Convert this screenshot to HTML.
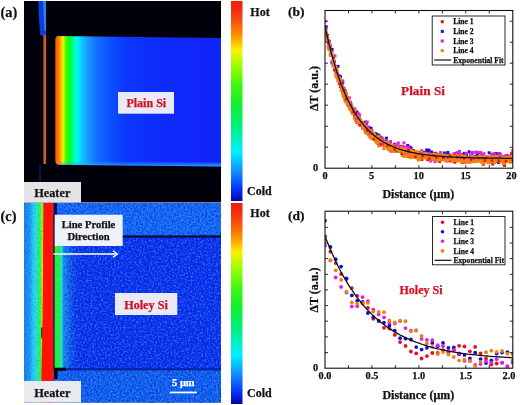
<!DOCTYPE html><html><head><meta charset="utf-8"><title>Figure</title>
<style>html,body{margin:0;padding:0;background:#fff}svg{display:block}text{font-family:"Liberation Serif","DejaVu Serif",serif;font-weight:bold;fill:#111;stroke:#111;stroke-width:0.25px}</style></head><body>
<svg width="520" height="405" viewBox="0 0 520 405">
<defs>
<linearGradient id="jet" x1="0" y1="0" x2="0" y2="1">
<stop offset="0" stop-color="#f01c10"/><stop offset="0.04" stop-color="#f42810"/><stop offset="0.10" stop-color="#f85010"/><stop offset="0.17" stop-color="#ff9000"/>
<stop offset="0.245" stop-color="#fcf000"/><stop offset="0.32" stop-color="#a0ff00"/><stop offset="0.42" stop-color="#40f810"/><stop offset="0.52" stop-color="#10f030"/>
<stop offset="0.625" stop-color="#00f080"/><stop offset="0.69" stop-color="#00f0c0"/><stop offset="0.755" stop-color="#00f0ff"/><stop offset="0.85" stop-color="#1090ff"/>
<stop offset="0.935" stop-color="#0838ff"/><stop offset="0.985" stop-color="#0410c0"/><stop offset="1" stop-color="#000890"/>
</linearGradient>
<linearGradient id="mem" gradientUnits="userSpaceOnUse" x1="55" y1="0" x2="221" y2="0">
<stop offset="0" stop-color="#c83800"/><stop offset="0.008" stop-color="#f86000"/><stop offset="0.028" stop-color="#ff9000"/>
<stop offset="0.042" stop-color="#ffd800"/><stop offset="0.052" stop-color="#d0ff00"/><stop offset="0.064" stop-color="#50ff00"/><stop offset="0.085" stop-color="#00ff20"/>
<stop offset="0.108" stop-color="#00ff80"/><stop offset="0.125" stop-color="#00ffd0"/><stop offset="0.14" stop-color="#00f0ff"/><stop offset="0.165" stop-color="#10c0ff"/>
<stop offset="0.2" stop-color="#1898ff"/><stop offset="0.25" stop-color="#1070ff"/><stop offset="0.32" stop-color="#0c54ff"/>
<stop offset="0.42" stop-color="#0c38fc"/><stop offset="0.6" stop-color="#0e2cfa"/><stop offset="1" stop-color="#1024f8"/>
</linearGradient>
<linearGradient id="glow" x1="0" y1="0" x2="0" y2="1"><stop offset="0" stop-color="#20a0ff" stop-opacity="0"/><stop offset="1" stop-color="#30b0ff" stop-opacity="0.9"/></linearGradient>
<linearGradient id="cleft" gradientUnits="userSpaceOnUse" x1="24" y1="0" x2="43.5" y2="0">
<stop offset="0" stop-color="#1880f0"/><stop offset="0.3" stop-color="#1c98f0"/><stop offset="0.45" stop-color="#28c8f0"/><stop offset="0.66" stop-color="#28e8e0"/><stop offset="0.74" stop-color="#20f070"/><stop offset="0.88" stop-color="#50ff30"/><stop offset="0.93" stop-color="#e0f000"/><stop offset="1" stop-color="#ff8000"/>
</linearGradient>
<linearGradient id="cright" gradientUnits="userSpaceOnUse" x1="54.5" y1="0" x2="80" y2="0">
<stop offset="0" stop-color="#30f030"/><stop offset="0.22" stop-color="#20f060"/><stop offset="0.28" stop-color="#20e8d8"/><stop offset="0.36" stop-color="#1890f0"/><stop offset="0.55" stop-color="#1468f0"/><stop offset="1" stop-color="#0c3cf0" stop-opacity="0"/>
</linearGradient>
<linearGradient id="cright2" gradientUnits="userSpaceOnUse" x1="54.5" y1="0" x2="80" y2="0">
<stop offset="0" stop-color="#30f030"/><stop offset="0.22" stop-color="#20f060"/><stop offset="0.28" stop-color="#20e8d8"/><stop offset="0.34" stop-color="#1890f0" stop-opacity="0.5"/><stop offset="0.42" stop-color="#1468f0" stop-opacity="0"/><stop offset="1" stop-color="#0c3cf0" stop-opacity="0"/>
</linearGradient>
<filter id="noise" x="0" y="0" width="100%" height="100%" color-interpolation-filters="sRGB"><feTurbulence type="fractalNoise" baseFrequency="0.55" numOctaves="2" seed="3" result="n"/>
<feColorMatrix in="n" type="matrix" values="0 0 0 0 0.30  0 0 0 0 0.62  0 0 0 0 1  3.2 0 0 0 -1.6"/></filter>
<filter id="noise2" x="0" y="0" width="100%" height="100%" color-interpolation-filters="sRGB"><feTurbulence type="fractalNoise" baseFrequency="0.55" numOctaves="2" seed="3" result="n"/>
<feColorMatrix in="n" type="matrix" values="0 0 0 0 0  0 0 0 0 0.04  0 0 0 0 0.62  -3.2 0 0 0 1.6"/></filter>
<filter id="soft2" x="-50%" y="-2%" width="200%" height="104%"><feGaussianBlur stdDeviation="0.35"/></filter>
<filter id="soft" x="-20%" y="-5%" width="140%" height="110%"><feGaussianBlur stdDeviation="0.6"/></filter>
<clipPath id="clipb"><rect x="325" y="10.5" width="188" height="157.7"/></clipPath>
<clipPath id="clipd"><rect x="325" y="211" width="188" height="157.5"/></clipPath>
</defs>
<rect width="520" height="405" fill="#fff"/>
<g id="panel-a">
<rect x="24" y="1" width="197" height="201.5" fill="#00000a"/>
<path d="M58.5 36 L221 38 L221 166.5 L59 164.8 Q55.2 164.6 55.2 161 L55.2 39.5 Q55.4 36 58.5 36 Z" fill="url(#mem)"/>
<path d="M60 160.8 L221 162.5 L221 166.5 L58 164.8 Z" fill="url(#glow)"/>
<path d="M38.2 1 L46 1 L46 35.5 L40.4 35.5 L39 20 Z" fill="#0a3ce0" filter="url(#soft)"/>
<path d="M43 1 L46 1 L46 31 L44.4 31 Z" fill="#2088ec" filter="url(#soft)"/>
<rect x="43.4" y="35" width="2.7" height="129" fill="#cc5830" filter="url(#soft2)"/>
<rect x="39" y="165" width="2" height="16" fill="#101870" opacity="0.7"/>
<rect x="118" y="92" width="56" height="21.7" fill="#e9e9f8"/>
<text x="146.3" y="107" font-size="12" text-anchor="middle" style="fill:#d01020;stroke:#d01020">Plain Si</text>
<rect x="24" y="182" width="57" height="20.5" fill="#e4e4e6"/>
<text x="52.3" y="197.3" font-size="12.3" text-anchor="middle">Heater</text>
<text x="0.6" y="16.6" font-size="14.3">(a)</text>
<rect x="231" y="1" width="11.5" height="200" fill="url(#jet)"/>
<text x="250.3" y="15.7" font-size="12">Hot</text>
<text x="247" y="195.4" font-size="12">Cold</text>
</g>
<g id="panel-c">
<rect x="24" y="203" width="197" height="199.5" fill="#0a34f0"/>
<rect x="54" y="203" width="167" height="33" fill="#1468f8"/>
<rect x="54" y="370" width="167" height="32.5" fill="#1060f0"/>
<rect x="24" y="203" width="19.5" height="199.5" fill="url(#cleft)"/>
<rect x="54.5" y="215" width="26" height="154" fill="url(#cright)"/>
<rect x="24" y="203" width="197" height="199.5" filter="url(#noise)" opacity="0.6"/>
<rect x="24" y="203" width="197" height="199.5" filter="url(#noise2)" opacity="0.5"/>
<rect x="24" y="203" width="19.5" height="199.5" fill="url(#cleft)" opacity="0.6"/>
<rect x="54.5" y="215" width="26" height="154" fill="url(#cright2)" opacity="0.75"/>
<rect x="122" y="235.4" width="99" height="2.2" fill="#000838"/>
<rect x="54" y="368.3" width="167" height="2" fill="#06209c"/>
<path d="M54 367.8 H66 V370.8 H57.5 V379 H54 Z" fill="#000010"/>
<rect x="53.5" y="203" width="3.5" height="12" fill="#001070"/>
<path d="M44.2 203 L53.5 203 L53.2 300 L53.8 402.5 L40.8 402.5 L42.6 320 L43.2 260 Z" fill="#ff1208"/>
<path d="M53.4 215 L54.6 215 L54.5 370 L53.6 370 Z" fill="#101020"/>
<path d="M41.2 328 L42.4 327 L42.2 339 L41.3 338 Z" fill="#081020"/>
<rect x="54.8" y="214.7" width="67.9" height="31.3" fill="#eef2f8"/>
<text x="88.5" y="227.6" font-size="10.6" text-anchor="middle">Line Profile</text>
<text x="88.5" y="240.4" font-size="10.6" text-anchor="middle">Direction</text>
<path d="M53.5 254 H116.5" stroke="#fff" stroke-width="1.5" fill="none"/>
<path d="M113 250.8 L117.3 254 L113 257.2" stroke="#fff" stroke-width="1.4" fill="none"/>
<rect x="115" y="293" width="62.3" height="22" fill="#e9e9f8"/>
<text x="146" y="308.5" font-size="12.2" text-anchor="middle" style="fill:#d01020;stroke:#d01020">Holey Si</text>
<rect x="24" y="381" width="57" height="21.5" fill="#e8eaee"/>
<text x="52.3" y="396.8" font-size="12.3" text-anchor="middle">Heater</text>
<text x="183.3" y="385.8" font-size="10.5" text-anchor="middle" style="fill:#fff;stroke:#fff">5 μm</text>
<rect x="169.7" y="391.6" width="27.2" height="1.7" fill="#fff"/>
<text x="0.6" y="221" font-size="14.3">(c)</text>
<rect x="231" y="203" width="11.5" height="201" fill="url(#jet)"/>
<text x="250.3" y="217.4" font-size="12">Hot</text>
<text x="247" y="397" font-size="12">Cold</text>
</g>
<g id="plot-b">
<g clip-path="url(#clipb)">
<g fill="#e8101c"><rect x="323.5" y="26.6" width="3" height="3"/><rect x="324.7" y="34.7" width="3" height="3"/><rect x="325.9" y="37.3" width="3" height="3"/><rect x="327.0" y="41.9" width="3" height="3"/><rect x="328.2" y="44.6" width="3" height="3"/><rect x="329.4" y="51.6" width="3" height="3"/><rect x="330.6" y="60.3" width="3" height="3"/><rect x="331.8" y="62.2" width="3" height="3"/><rect x="332.9" y="68.2" width="3" height="3"/><rect x="334.1" y="69.5" width="3" height="3"/><rect x="335.3" y="73.6" width="3" height="3"/><rect x="336.5" y="76.5" width="3" height="3"/><rect x="337.7" y="74.2" width="3" height="3"/><rect x="338.9" y="85.2" width="3" height="3"/><rect x="340.0" y="87.2" width="3" height="3"/><rect x="341.2" y="90.2" width="3" height="3"/><rect x="342.4" y="86.6" width="3" height="3"/><rect x="343.6" y="89.2" width="3" height="3"/><rect x="344.8" y="94.4" width="3" height="3"/><rect x="345.9" y="98.1" width="3" height="3"/><rect x="347.1" y="102.8" width="3" height="3"/><rect x="348.3" y="104.1" width="3" height="3"/><rect x="349.5" y="107.9" width="3" height="3"/><rect x="350.7" y="106.8" width="3" height="3"/><rect x="351.8" y="111.5" width="3" height="3"/><rect x="353.0" y="113.7" width="3" height="3"/><rect x="354.2" y="112.7" width="3" height="3"/><rect x="355.4" y="121.0" width="3" height="3"/><rect x="356.6" y="119.6" width="3" height="3"/><rect x="357.8" y="122.9" width="3" height="3"/><rect x="358.9" y="119.7" width="3" height="3"/><rect x="360.1" y="120.9" width="3" height="3"/><rect x="361.3" y="123.4" width="3" height="3"/><rect x="362.5" y="125.5" width="3" height="3"/><rect x="363.7" y="128.7" width="3" height="3"/><rect x="364.8" y="129.0" width="3" height="3"/><rect x="366.0" y="128.5" width="3" height="3"/><rect x="367.2" y="128.3" width="3" height="3"/><rect x="368.4" y="130.6" width="3" height="3"/><rect x="369.6" y="136.2" width="3" height="3"/><rect x="370.7" y="132.0" width="3" height="3"/><rect x="371.9" y="135.7" width="3" height="3"/><rect x="373.1" y="137.1" width="3" height="3"/><rect x="374.3" y="133.2" width="3" height="3"/><rect x="375.5" y="138.0" width="3" height="3"/><rect x="376.7" y="142.0" width="3" height="3"/><rect x="377.8" y="134.5" width="3" height="3"/><rect x="379.0" y="139.5" width="3" height="3"/><rect x="380.2" y="140.8" width="3" height="3"/><rect x="381.4" y="139.8" width="3" height="3"/><rect x="382.6" y="143.7" width="3" height="3"/><rect x="383.7" y="143.0" width="3" height="3"/><rect x="384.9" y="140.2" width="3" height="3"/><rect x="386.1" y="146.4" width="3" height="3"/><rect x="387.3" y="146.6" width="3" height="3"/><rect x="388.5" y="147.8" width="3" height="3"/><rect x="389.6" y="149.6" width="3" height="3"/><rect x="390.8" y="147.5" width="3" height="3"/><rect x="392.0" y="147.4" width="3" height="3"/><rect x="393.2" y="144.4" width="3" height="3"/><rect x="394.4" y="149.5" width="3" height="3"/><rect x="395.5" y="147.0" width="3" height="3"/><rect x="396.7" y="147.8" width="3" height="3"/><rect x="397.9" y="146.2" width="3" height="3"/><rect x="399.1" y="147.3" width="3" height="3"/><rect x="400.3" y="148.7" width="3" height="3"/><rect x="401.5" y="153.4" width="3" height="3"/><rect x="402.6" y="145.9" width="3" height="3"/><rect x="403.8" y="147.6" width="3" height="3"/><rect x="405.0" y="151.9" width="3" height="3"/><rect x="406.2" y="155.1" width="3" height="3"/><rect x="407.4" y="153.3" width="3" height="3"/><rect x="408.5" y="147.7" width="3" height="3"/><rect x="409.7" y="146.5" width="3" height="3"/><rect x="410.9" y="153.6" width="3" height="3"/><rect x="412.1" y="151.2" width="3" height="3"/><rect x="413.3" y="150.5" width="3" height="3"/><rect x="414.4" y="155.7" width="3" height="3"/><rect x="415.6" y="156.2" width="3" height="3"/><rect x="416.8" y="154.2" width="3" height="3"/><rect x="418.0" y="154.6" width="3" height="3"/><rect x="419.2" y="155.2" width="3" height="3"/><rect x="420.4" y="158.1" width="3" height="3"/><rect x="421.5" y="156.0" width="3" height="3"/><rect x="422.7" y="155.9" width="3" height="3"/><rect x="423.9" y="156.2" width="3" height="3"/><rect x="425.1" y="151.4" width="3" height="3"/><rect x="426.3" y="158.2" width="3" height="3"/><rect x="427.4" y="157.6" width="3" height="3"/><rect x="428.6" y="156.7" width="3" height="3"/><rect x="429.8" y="151.0" width="3" height="3"/><rect x="431.0" y="154.2" width="3" height="3"/><rect x="432.2" y="157.8" width="3" height="3"/><rect x="433.3" y="151.7" width="3" height="3"/><rect x="434.5" y="155.6" width="3" height="3"/><rect x="435.7" y="158.5" width="3" height="3"/><rect x="436.9" y="153.2" width="3" height="3"/><rect x="438.1" y="160.1" width="3" height="3"/><rect x="439.3" y="157.7" width="3" height="3"/><rect x="440.4" y="156.2" width="3" height="3"/><rect x="441.6" y="157.4" width="3" height="3"/><rect x="442.8" y="158.2" width="3" height="3"/><rect x="444.0" y="157.1" width="3" height="3"/><rect x="445.2" y="159.5" width="3" height="3"/><rect x="446.3" y="155.4" width="3" height="3"/><rect x="447.5" y="156.0" width="3" height="3"/><rect x="448.7" y="159.5" width="3" height="3"/><rect x="449.9" y="157.2" width="3" height="3"/><rect x="451.1" y="155.1" width="3" height="3"/><rect x="452.2" y="159.4" width="3" height="3"/><rect x="453.4" y="160.7" width="3" height="3"/><rect x="454.6" y="156.3" width="3" height="3"/><rect x="455.8" y="154.2" width="3" height="3"/><rect x="457.0" y="157.1" width="3" height="3"/><rect x="458.1" y="157.2" width="3" height="3"/><rect x="459.3" y="156.9" width="3" height="3"/><rect x="460.5" y="160.8" width="3" height="3"/><rect x="461.7" y="155.3" width="3" height="3"/><rect x="462.9" y="160.6" width="3" height="3"/><rect x="464.1" y="154.8" width="3" height="3"/><rect x="465.2" y="155.9" width="3" height="3"/><rect x="466.4" y="159.2" width="3" height="3"/><rect x="467.6" y="160.4" width="3" height="3"/><rect x="468.8" y="159.8" width="3" height="3"/><rect x="470.0" y="158.7" width="3" height="3"/><rect x="471.1" y="158.2" width="3" height="3"/><rect x="472.3" y="158.3" width="3" height="3"/><rect x="473.5" y="159.3" width="3" height="3"/><rect x="474.7" y="157.6" width="3" height="3"/><rect x="475.9" y="158.7" width="3" height="3"/><rect x="477.0" y="159.4" width="3" height="3"/><rect x="478.2" y="158.1" width="3" height="3"/><rect x="479.4" y="159.8" width="3" height="3"/><rect x="480.6" y="159.4" width="3" height="3"/><rect x="481.8" y="162.8" width="3" height="3"/><rect x="483.0" y="158.9" width="3" height="3"/><rect x="484.1" y="157.2" width="3" height="3"/><rect x="485.3" y="157.3" width="3" height="3"/><rect x="486.5" y="158.2" width="3" height="3"/><rect x="487.7" y="160.3" width="3" height="3"/><rect x="488.9" y="157.5" width="3" height="3"/><rect x="490.0" y="159.1" width="3" height="3"/><rect x="491.2" y="162.5" width="3" height="3"/><rect x="492.4" y="152.4" width="3" height="3"/><rect x="493.6" y="155.7" width="3" height="3"/><rect x="494.8" y="158.9" width="3" height="3"/><rect x="495.9" y="159.2" width="3" height="3"/><rect x="497.1" y="158.9" width="3" height="3"/><rect x="498.3" y="157.3" width="3" height="3"/><rect x="499.5" y="159.9" width="3" height="3"/><rect x="500.7" y="159.0" width="3" height="3"/><rect x="501.9" y="157.2" width="3" height="3"/><rect x="503.0" y="164.0" width="3" height="3"/><rect x="504.2" y="159.2" width="3" height="3"/><rect x="505.4" y="157.1" width="3" height="3"/><rect x="506.6" y="158.2" width="3" height="3"/><rect x="507.8" y="157.9" width="3" height="3"/><rect x="508.9" y="158.3" width="3" height="3"/><rect x="510.1" y="152.1" width="3" height="3"/><rect x="511.3" y="157.3" width="3" height="3"/></g>
<g fill="#1010d8"><rect x="323.5" y="26.9" width="3" height="3"/><rect x="324.7" y="25.3" width="3" height="3"/><rect x="325.9" y="34.0" width="3" height="3"/><rect x="327.0" y="42.3" width="3" height="3"/><rect x="328.2" y="46.7" width="3" height="3"/><rect x="329.4" y="53.2" width="3" height="3"/><rect x="330.6" y="47.9" width="3" height="3"/><rect x="331.8" y="56.2" width="3" height="3"/><rect x="332.9" y="60.4" width="3" height="3"/><rect x="334.1" y="67.1" width="3" height="3"/><rect x="335.3" y="72.1" width="3" height="3"/><rect x="336.5" y="64.9" width="3" height="3"/><rect x="337.7" y="79.0" width="3" height="3"/><rect x="338.9" y="75.2" width="3" height="3"/><rect x="340.0" y="84.3" width="3" height="3"/><rect x="341.2" y="81.4" width="3" height="3"/><rect x="342.4" y="88.8" width="3" height="3"/><rect x="343.6" y="94.3" width="3" height="3"/><rect x="344.8" y="93.4" width="3" height="3"/><rect x="345.9" y="96.9" width="3" height="3"/><rect x="347.1" y="100.9" width="3" height="3"/><rect x="348.3" y="101.5" width="3" height="3"/><rect x="349.5" y="103.2" width="3" height="3"/><rect x="350.7" y="109.5" width="3" height="3"/><rect x="351.8" y="110.3" width="3" height="3"/><rect x="353.0" y="108.9" width="3" height="3"/><rect x="354.2" y="118.4" width="3" height="3"/><rect x="355.4" y="110.5" width="3" height="3"/><rect x="356.6" y="117.4" width="3" height="3"/><rect x="357.8" y="116.2" width="3" height="3"/><rect x="358.9" y="118.8" width="3" height="3"/><rect x="360.1" y="121.7" width="3" height="3"/><rect x="361.3" y="122.0" width="3" height="3"/><rect x="362.5" y="124.4" width="3" height="3"/><rect x="363.7" y="120.6" width="3" height="3"/><rect x="364.8" y="122.0" width="3" height="3"/><rect x="366.0" y="128.3" width="3" height="3"/><rect x="367.2" y="125.8" width="3" height="3"/><rect x="368.4" y="126.8" width="3" height="3"/><rect x="369.6" y="126.8" width="3" height="3"/><rect x="370.7" y="134.3" width="3" height="3"/><rect x="371.9" y="134.1" width="3" height="3"/><rect x="373.1" y="136.7" width="3" height="3"/><rect x="374.3" y="132.1" width="3" height="3"/><rect x="375.5" y="135.2" width="3" height="3"/><rect x="376.7" y="133.4" width="3" height="3"/><rect x="377.8" y="138.6" width="3" height="3"/><rect x="379.0" y="141.2" width="3" height="3"/><rect x="380.2" y="136.4" width="3" height="3"/><rect x="381.4" y="142.6" width="3" height="3"/><rect x="382.6" y="142.0" width="3" height="3"/><rect x="383.7" y="140.1" width="3" height="3"/><rect x="384.9" y="136.7" width="3" height="3"/><rect x="386.1" y="144.9" width="3" height="3"/><rect x="387.3" y="142.1" width="3" height="3"/><rect x="388.5" y="141.6" width="3" height="3"/><rect x="389.6" y="144.3" width="3" height="3"/><rect x="390.8" y="144.9" width="3" height="3"/><rect x="392.0" y="147.8" width="3" height="3"/><rect x="393.2" y="142.7" width="3" height="3"/><rect x="394.4" y="147.9" width="3" height="3"/><rect x="395.5" y="149.1" width="3" height="3"/><rect x="396.7" y="149.4" width="3" height="3"/><rect x="397.9" y="146.3" width="3" height="3"/><rect x="399.1" y="145.4" width="3" height="3"/><rect x="400.3" y="149.6" width="3" height="3"/><rect x="401.5" y="148.0" width="3" height="3"/><rect x="402.6" y="148.4" width="3" height="3"/><rect x="403.8" y="151.5" width="3" height="3"/><rect x="405.0" y="148.2" width="3" height="3"/><rect x="406.2" y="144.1" width="3" height="3"/><rect x="407.4" y="148.5" width="3" height="3"/><rect x="408.5" y="145.6" width="3" height="3"/><rect x="409.7" y="151.7" width="3" height="3"/><rect x="410.9" y="150.8" width="3" height="3"/><rect x="412.1" y="149.1" width="3" height="3"/><rect x="413.3" y="150.6" width="3" height="3"/><rect x="414.4" y="152.6" width="3" height="3"/><rect x="415.6" y="151.2" width="3" height="3"/><rect x="416.8" y="154.1" width="3" height="3"/><rect x="418.0" y="151.3" width="3" height="3"/><rect x="419.2" y="153.9" width="3" height="3"/><rect x="420.4" y="155.0" width="3" height="3"/><rect x="421.5" y="155.5" width="3" height="3"/><rect x="422.7" y="150.8" width="3" height="3"/><rect x="423.9" y="154.2" width="3" height="3"/><rect x="425.1" y="148.5" width="3" height="3"/><rect x="426.3" y="150.3" width="3" height="3"/><rect x="427.4" y="148.6" width="3" height="3"/><rect x="428.6" y="155.2" width="3" height="3"/><rect x="429.8" y="150.4" width="3" height="3"/><rect x="431.0" y="153.2" width="3" height="3"/><rect x="432.2" y="152.9" width="3" height="3"/><rect x="433.3" y="153.4" width="3" height="3"/><rect x="434.5" y="152.3" width="3" height="3"/><rect x="435.7" y="154.1" width="3" height="3"/><rect x="436.9" y="157.5" width="3" height="3"/><rect x="438.1" y="153.9" width="3" height="3"/><rect x="439.3" y="155.0" width="3" height="3"/><rect x="440.4" y="156.1" width="3" height="3"/><rect x="441.6" y="153.7" width="3" height="3"/><rect x="442.8" y="151.5" width="3" height="3"/><rect x="444.0" y="153.1" width="3" height="3"/><rect x="445.2" y="156.6" width="3" height="3"/><rect x="446.3" y="150.9" width="3" height="3"/><rect x="447.5" y="153.2" width="3" height="3"/><rect x="448.7" y="156.7" width="3" height="3"/><rect x="449.9" y="156.3" width="3" height="3"/><rect x="451.1" y="154.7" width="3" height="3"/><rect x="452.2" y="156.4" width="3" height="3"/><rect x="453.4" y="155.1" width="3" height="3"/><rect x="454.6" y="152.3" width="3" height="3"/><rect x="455.8" y="151.6" width="3" height="3"/><rect x="457.0" y="153.6" width="3" height="3"/><rect x="458.1" y="156.9" width="3" height="3"/><rect x="459.3" y="153.8" width="3" height="3"/><rect x="460.5" y="153.2" width="3" height="3"/><rect x="461.7" y="153.5" width="3" height="3"/><rect x="462.9" y="151.9" width="3" height="3"/><rect x="464.1" y="155.0" width="3" height="3"/><rect x="465.2" y="152.7" width="3" height="3"/><rect x="466.4" y="156.0" width="3" height="3"/><rect x="467.6" y="150.3" width="3" height="3"/><rect x="468.8" y="156.0" width="3" height="3"/><rect x="470.0" y="154.0" width="3" height="3"/><rect x="471.1" y="151.3" width="3" height="3"/><rect x="472.3" y="157.0" width="3" height="3"/><rect x="473.5" y="154.9" width="3" height="3"/><rect x="474.7" y="150.8" width="3" height="3"/><rect x="475.9" y="153.7" width="3" height="3"/><rect x="477.0" y="156.1" width="3" height="3"/><rect x="478.2" y="154.6" width="3" height="3"/><rect x="479.4" y="157.2" width="3" height="3"/><rect x="480.6" y="157.2" width="3" height="3"/><rect x="481.8" y="157.0" width="3" height="3"/><rect x="483.0" y="156.3" width="3" height="3"/><rect x="484.1" y="158.5" width="3" height="3"/><rect x="485.3" y="157.1" width="3" height="3"/><rect x="486.5" y="156.6" width="3" height="3"/><rect x="487.7" y="151.3" width="3" height="3"/><rect x="488.9" y="157.6" width="3" height="3"/><rect x="490.0" y="158.5" width="3" height="3"/><rect x="491.2" y="155.1" width="3" height="3"/><rect x="492.4" y="154.8" width="3" height="3"/><rect x="493.6" y="159.9" width="3" height="3"/><rect x="494.8" y="152.1" width="3" height="3"/><rect x="495.9" y="156.8" width="3" height="3"/><rect x="497.1" y="160.9" width="3" height="3"/><rect x="498.3" y="153.9" width="3" height="3"/><rect x="499.5" y="157.3" width="3" height="3"/><rect x="500.7" y="159.8" width="3" height="3"/><rect x="501.9" y="155.6" width="3" height="3"/><rect x="503.0" y="157.1" width="3" height="3"/><rect x="504.2" y="157.8" width="3" height="3"/><rect x="505.4" y="154.0" width="3" height="3"/><rect x="506.6" y="155.7" width="3" height="3"/><rect x="507.8" y="156.5" width="3" height="3"/><rect x="508.9" y="157.7" width="3" height="3"/><rect x="510.1" y="155.9" width="3" height="3"/><rect x="511.3" y="155.5" width="3" height="3"/></g>
<g fill="#e020e0"><rect x="323.5" y="19.8" width="3" height="3"/><rect x="324.6" y="27.5" width="3" height="3"/><rect x="325.7" y="37.2" width="3" height="3"/><rect x="326.8" y="38.9" width="3" height="3"/><rect x="327.9" y="39.9" width="3" height="3"/><rect x="329.1" y="44.4" width="3" height="3"/><rect x="330.2" y="61.3" width="3" height="3"/><rect x="331.3" y="59.8" width="3" height="3"/><rect x="332.4" y="61.8" width="3" height="3"/><rect x="333.5" y="54.3" width="3" height="3"/><rect x="334.6" y="69.1" width="3" height="3"/><rect x="335.7" y="72.0" width="3" height="3"/><rect x="336.8" y="79.4" width="3" height="3"/><rect x="337.9" y="78.3" width="3" height="3"/><rect x="339.1" y="79.7" width="3" height="3"/><rect x="340.2" y="84.6" width="3" height="3"/><rect x="341.3" y="79.4" width="3" height="3"/><rect x="342.4" y="91.8" width="3" height="3"/><rect x="343.5" y="92.1" width="3" height="3"/><rect x="344.6" y="91.4" width="3" height="3"/><rect x="345.7" y="100.2" width="3" height="3"/><rect x="346.8" y="104.0" width="3" height="3"/><rect x="347.9" y="96.3" width="3" height="3"/><rect x="349.1" y="100.7" width="3" height="3"/><rect x="350.2" y="105.7" width="3" height="3"/><rect x="351.3" y="107.4" width="3" height="3"/><rect x="352.4" y="107.5" width="3" height="3"/><rect x="353.5" y="107.6" width="3" height="3"/><rect x="354.6" y="118.6" width="3" height="3"/><rect x="355.7" y="117.1" width="3" height="3"/><rect x="356.8" y="112.1" width="3" height="3"/><rect x="357.9" y="113.3" width="3" height="3"/><rect x="359.1" y="123.7" width="3" height="3"/><rect x="360.2" y="123.0" width="3" height="3"/><rect x="361.3" y="126.8" width="3" height="3"/><rect x="362.4" y="125.2" width="3" height="3"/><rect x="363.5" y="121.7" width="3" height="3"/><rect x="364.6" y="126.2" width="3" height="3"/><rect x="365.7" y="120.5" width="3" height="3"/><rect x="366.8" y="125.7" width="3" height="3"/><rect x="367.9" y="128.7" width="3" height="3"/><rect x="369.1" y="131.4" width="3" height="3"/><rect x="370.2" y="128.9" width="3" height="3"/><rect x="371.3" y="131.6" width="3" height="3"/><rect x="372.4" y="134.1" width="3" height="3"/><rect x="373.5" y="134.8" width="3" height="3"/><rect x="374.6" y="136.4" width="3" height="3"/><rect x="375.7" y="136.0" width="3" height="3"/><rect x="376.8" y="135.4" width="3" height="3"/><rect x="378.0" y="139.2" width="3" height="3"/><rect x="379.1" y="137.9" width="3" height="3"/><rect x="380.2" y="136.3" width="3" height="3"/><rect x="381.3" y="137.5" width="3" height="3"/><rect x="382.4" y="139.8" width="3" height="3"/><rect x="383.5" y="140.2" width="3" height="3"/><rect x="384.6" y="141.5" width="3" height="3"/><rect x="385.7" y="141.7" width="3" height="3"/><rect x="386.8" y="142.7" width="3" height="3"/><rect x="388.0" y="142.4" width="3" height="3"/><rect x="389.1" y="140.0" width="3" height="3"/><rect x="390.2" y="144.9" width="3" height="3"/><rect x="391.3" y="147.0" width="3" height="3"/><rect x="392.4" y="145.9" width="3" height="3"/><rect x="393.5" y="144.7" width="3" height="3"/><rect x="394.6" y="146.8" width="3" height="3"/><rect x="395.7" y="143.5" width="3" height="3"/><rect x="396.8" y="141.5" width="3" height="3"/><rect x="398.0" y="146.9" width="3" height="3"/><rect x="399.1" y="144.7" width="3" height="3"/><rect x="400.2" y="149.4" width="3" height="3"/><rect x="401.3" y="145.0" width="3" height="3"/><rect x="402.4" y="141.4" width="3" height="3"/><rect x="403.5" y="145.8" width="3" height="3"/><rect x="404.6" y="152.8" width="3" height="3"/><rect x="405.7" y="148.1" width="3" height="3"/><rect x="406.8" y="145.8" width="3" height="3"/><rect x="408.0" y="147.6" width="3" height="3"/><rect x="409.1" y="151.2" width="3" height="3"/><rect x="410.2" y="151.4" width="3" height="3"/><rect x="411.3" y="150.8" width="3" height="3"/><rect x="412.4" y="154.4" width="3" height="3"/><rect x="413.5" y="152.6" width="3" height="3"/><rect x="414.6" y="150.9" width="3" height="3"/><rect x="415.7" y="152.7" width="3" height="3"/><rect x="416.8" y="155.6" width="3" height="3"/><rect x="418.0" y="154.0" width="3" height="3"/><rect x="419.1" y="154.4" width="3" height="3"/><rect x="420.2" y="149.2" width="3" height="3"/><rect x="421.3" y="151.7" width="3" height="3"/><rect x="422.4" y="154.1" width="3" height="3"/><rect x="423.5" y="151.6" width="3" height="3"/><rect x="424.6" y="155.3" width="3" height="3"/><rect x="425.7" y="154.2" width="3" height="3"/><rect x="426.8" y="155.1" width="3" height="3"/><rect x="428.0" y="152.4" width="3" height="3"/><rect x="429.1" y="159.5" width="3" height="3"/><rect x="430.2" y="156.3" width="3" height="3"/><rect x="431.3" y="152.8" width="3" height="3"/><rect x="432.4" y="153.7" width="3" height="3"/><rect x="433.5" y="160.1" width="3" height="3"/><rect x="434.6" y="152.8" width="3" height="3"/><rect x="435.7" y="155.9" width="3" height="3"/><rect x="436.8" y="156.3" width="3" height="3"/><rect x="438.0" y="153.9" width="3" height="3"/><rect x="439.1" y="151.1" width="3" height="3"/><rect x="440.2" y="154.6" width="3" height="3"/><rect x="441.3" y="155.1" width="3" height="3"/><rect x="442.4" y="157.1" width="3" height="3"/><rect x="443.5" y="156.3" width="3" height="3"/><rect x="444.6" y="154.5" width="3" height="3"/><rect x="445.7" y="156.6" width="3" height="3"/><rect x="446.8" y="155.9" width="3" height="3"/><rect x="448.0" y="155.1" width="3" height="3"/><rect x="449.1" y="154.8" width="3" height="3"/><rect x="450.2" y="154.1" width="3" height="3"/><rect x="451.3" y="156.5" width="3" height="3"/><rect x="452.4" y="152.2" width="3" height="3"/><rect x="453.5" y="153.3" width="3" height="3"/><rect x="454.6" y="155.0" width="3" height="3"/><rect x="455.7" y="151.3" width="3" height="3"/><rect x="456.8" y="153.9" width="3" height="3"/><rect x="458.0" y="150.0" width="3" height="3"/><rect x="459.1" y="153.4" width="3" height="3"/><rect x="460.2" y="156.6" width="3" height="3"/><rect x="461.3" y="156.6" width="3" height="3"/><rect x="462.4" y="155.1" width="3" height="3"/><rect x="463.5" y="154.7" width="3" height="3"/><rect x="464.6" y="151.8" width="3" height="3"/><rect x="465.7" y="159.9" width="3" height="3"/><rect x="466.9" y="156.7" width="3" height="3"/><rect x="468.0" y="158.2" width="3" height="3"/><rect x="469.1" y="153.2" width="3" height="3"/><rect x="470.2" y="155.0" width="3" height="3"/><rect x="471.3" y="150.9" width="3" height="3"/><rect x="472.4" y="157.5" width="3" height="3"/><rect x="473.5" y="157.9" width="3" height="3"/><rect x="474.6" y="150.8" width="3" height="3"/><rect x="475.7" y="155.5" width="3" height="3"/><rect x="476.9" y="157.2" width="3" height="3"/><rect x="478.0" y="151.2" width="3" height="3"/><rect x="479.1" y="151.1" width="3" height="3"/><rect x="480.2" y="153.0" width="3" height="3"/><rect x="481.3" y="154.1" width="3" height="3"/><rect x="482.4" y="152.2" width="3" height="3"/><rect x="483.5" y="155.8" width="3" height="3"/><rect x="484.6" y="156.4" width="3" height="3"/><rect x="485.7" y="157.4" width="3" height="3"/><rect x="486.9" y="157.6" width="3" height="3"/><rect x="488.0" y="159.6" width="3" height="3"/><rect x="489.1" y="158.7" width="3" height="3"/><rect x="490.2" y="152.6" width="3" height="3"/><rect x="491.3" y="154.6" width="3" height="3"/><rect x="492.4" y="153.2" width="3" height="3"/><rect x="493.5" y="153.2" width="3" height="3"/><rect x="494.6" y="155.7" width="3" height="3"/><rect x="495.7" y="155.9" width="3" height="3"/><rect x="496.9" y="157.1" width="3" height="3"/><rect x="498.0" y="152.0" width="3" height="3"/><rect x="499.1" y="152.8" width="3" height="3"/><rect x="500.2" y="155.9" width="3" height="3"/><rect x="501.3" y="155.5" width="3" height="3"/><rect x="502.4" y="155.2" width="3" height="3"/><rect x="503.5" y="155.8" width="3" height="3"/><rect x="504.6" y="154.1" width="3" height="3"/><rect x="505.7" y="157.7" width="3" height="3"/><rect x="506.9" y="156.9" width="3" height="3"/><rect x="508.0" y="155.8" width="3" height="3"/><rect x="509.1" y="154.3" width="3" height="3"/><rect x="510.2" y="155.6" width="3" height="3"/><rect x="511.3" y="149.2" width="3" height="3"/></g>
<g fill="#f08010"><rect x="323.5" y="27.9" width="3" height="3"/><rect x="323.9" y="32.3" width="3" height="3"/><rect x="324.3" y="35.6" width="3" height="3"/><rect x="324.7" y="36.6" width="3" height="3"/><rect x="325.1" y="31.3" width="3" height="3"/><rect x="325.5" y="39.3" width="3" height="3"/><rect x="325.9" y="38.7" width="3" height="3"/><rect x="326.2" y="35.1" width="3" height="3"/><rect x="326.6" y="45.4" width="3" height="3"/><rect x="327.0" y="47.5" width="3" height="3"/><rect x="327.4" y="42.0" width="3" height="3"/><rect x="327.8" y="42.8" width="3" height="3"/><rect x="328.2" y="48.4" width="3" height="3"/><rect x="328.6" y="53.6" width="3" height="3"/><rect x="329.0" y="53.6" width="3" height="3"/><rect x="329.4" y="53.4" width="3" height="3"/><rect x="329.8" y="53.4" width="3" height="3"/><rect x="330.2" y="53.6" width="3" height="3"/><rect x="330.6" y="50.8" width="3" height="3"/><rect x="330.9" y="53.7" width="3" height="3"/><rect x="331.3" y="64.5" width="3" height="3"/><rect x="331.7" y="59.8" width="3" height="3"/><rect x="332.1" y="60.7" width="3" height="3"/><rect x="332.5" y="58.4" width="3" height="3"/><rect x="332.9" y="62.5" width="3" height="3"/><rect x="333.3" y="63.6" width="3" height="3"/><rect x="333.7" y="66.1" width="3" height="3"/><rect x="334.1" y="72.4" width="3" height="3"/><rect x="334.5" y="75.1" width="3" height="3"/><rect x="334.9" y="66.2" width="3" height="3"/><rect x="335.3" y="75.3" width="3" height="3"/><rect x="335.7" y="68.7" width="3" height="3"/><rect x="336.0" y="74.5" width="3" height="3"/><rect x="336.4" y="78.6" width="3" height="3"/><rect x="336.8" y="78.8" width="3" height="3"/><rect x="337.2" y="77.1" width="3" height="3"/><rect x="337.6" y="76.2" width="3" height="3"/><rect x="338.0" y="77.4" width="3" height="3"/><rect x="338.4" y="81.0" width="3" height="3"/><rect x="338.8" y="78.3" width="3" height="3"/><rect x="339.2" y="80.9" width="3" height="3"/><rect x="339.6" y="88.7" width="3" height="3"/><rect x="340.0" y="84.8" width="3" height="3"/><rect x="340.4" y="87.2" width="3" height="3"/><rect x="340.8" y="83.8" width="3" height="3"/><rect x="341.1" y="92.4" width="3" height="3"/><rect x="341.5" y="87.1" width="3" height="3"/><rect x="341.9" y="95.1" width="3" height="3"/><rect x="342.3" y="90.7" width="3" height="3"/><rect x="342.7" y="90.3" width="3" height="3"/><rect x="343.1" y="97.6" width="3" height="3"/><rect x="343.5" y="98.9" width="3" height="3"/><rect x="343.9" y="91.7" width="3" height="3"/><rect x="344.3" y="100.3" width="3" height="3"/><rect x="344.7" y="99.4" width="3" height="3"/><rect x="345.1" y="93.3" width="3" height="3"/><rect x="345.5" y="102.6" width="3" height="3"/><rect x="345.8" y="95.8" width="3" height="3"/><rect x="346.2" y="102.1" width="3" height="3"/><rect x="346.6" y="101.2" width="3" height="3"/><rect x="347.0" y="97.7" width="3" height="3"/><rect x="347.4" y="102.2" width="3" height="3"/><rect x="347.8" y="106.9" width="3" height="3"/><rect x="348.2" y="101.7" width="3" height="3"/><rect x="348.6" y="105.9" width="3" height="3"/><rect x="349.0" y="104.8" width="3" height="3"/><rect x="349.4" y="108.7" width="3" height="3"/><rect x="349.8" y="106.3" width="3" height="3"/><rect x="350.2" y="110.4" width="3" height="3"/><rect x="350.6" y="105.8" width="3" height="3"/><rect x="350.9" y="112.0" width="3" height="3"/><rect x="351.3" y="112.1" width="3" height="3"/><rect x="351.7" y="110.4" width="3" height="3"/><rect x="352.1" y="110.4" width="3" height="3"/><rect x="352.5" y="108.7" width="3" height="3"/><rect x="352.9" y="116.6" width="3" height="3"/><rect x="353.3" y="109.2" width="3" height="3"/><rect x="353.7" y="117.0" width="3" height="3"/><rect x="354.1" y="118.0" width="3" height="3"/><rect x="354.5" y="116.5" width="3" height="3"/><rect x="354.9" y="114.5" width="3" height="3"/><rect x="355.3" y="115.1" width="3" height="3"/><rect x="355.6" y="120.6" width="3" height="3"/><rect x="356.0" y="114.8" width="3" height="3"/><rect x="356.4" y="118.8" width="3" height="3"/><rect x="356.8" y="117.3" width="3" height="3"/><rect x="357.2" y="116.2" width="3" height="3"/><rect x="357.6" y="121.3" width="3" height="3"/><rect x="358.0" y="116.4" width="3" height="3"/><rect x="358.4" y="122.6" width="3" height="3"/><rect x="358.8" y="119.2" width="3" height="3"/><rect x="359.2" y="119.6" width="3" height="3"/><rect x="359.6" y="123.7" width="3" height="3"/><rect x="360.0" y="122.5" width="3" height="3"/><rect x="360.4" y="122.9" width="3" height="3"/><rect x="360.7" y="122.7" width="3" height="3"/><rect x="361.1" y="124.0" width="3" height="3"/><rect x="361.5" y="127.0" width="3" height="3"/><rect x="361.9" y="127.2" width="3" height="3"/><rect x="362.3" y="124.0" width="3" height="3"/><rect x="362.7" y="122.6" width="3" height="3"/><rect x="363.1" y="125.1" width="3" height="3"/><rect x="363.5" y="125.4" width="3" height="3"/><rect x="363.9" y="131.1" width="3" height="3"/><rect x="364.3" y="124.5" width="3" height="3"/><rect x="364.7" y="127.7" width="3" height="3"/><rect x="365.1" y="129.4" width="3" height="3"/><rect x="365.5" y="131.6" width="3" height="3"/><rect x="365.8" y="132.0" width="3" height="3"/><rect x="366.2" y="128.7" width="3" height="3"/><rect x="366.6" y="128.2" width="3" height="3"/><rect x="367.0" y="133.5" width="3" height="3"/><rect x="367.4" y="130.1" width="3" height="3"/><rect x="367.8" y="129.2" width="3" height="3"/><rect x="368.2" y="135.4" width="3" height="3"/><rect x="368.6" y="134.4" width="3" height="3"/><rect x="369.0" y="128.9" width="3" height="3"/><rect x="369.4" y="130.4" width="3" height="3"/><rect x="369.8" y="136.3" width="3" height="3"/><rect x="370.2" y="133.1" width="3" height="3"/><rect x="370.5" y="137.1" width="3" height="3"/><rect x="370.9" y="135.0" width="3" height="3"/><rect x="371.3" y="131.8" width="3" height="3"/><rect x="371.7" y="135.5" width="3" height="3"/><rect x="372.1" y="131.5" width="3" height="3"/><rect x="372.5" y="133.1" width="3" height="3"/><rect x="372.9" y="137.9" width="3" height="3"/><rect x="373.3" y="133.1" width="3" height="3"/><rect x="373.7" y="138.5" width="3" height="3"/><rect x="374.1" y="136.0" width="3" height="3"/><rect x="374.5" y="140.3" width="3" height="3"/><rect x="374.9" y="136.2" width="3" height="3"/><rect x="375.3" y="141.2" width="3" height="3"/><rect x="375.6" y="137.3" width="3" height="3"/><rect x="376.0" y="137.6" width="3" height="3"/><rect x="376.4" y="141.2" width="3" height="3"/><rect x="376.8" y="135.2" width="3" height="3"/><rect x="377.2" y="144.5" width="3" height="3"/><rect x="377.6" y="139.2" width="3" height="3"/><rect x="378.0" y="139.6" width="3" height="3"/><rect x="378.4" y="139.7" width="3" height="3"/><rect x="378.8" y="137.8" width="3" height="3"/><rect x="379.2" y="143.6" width="3" height="3"/><rect x="379.6" y="143.5" width="3" height="3"/><rect x="380.0" y="141.6" width="3" height="3"/><rect x="380.3" y="143.0" width="3" height="3"/><rect x="380.7" y="143.7" width="3" height="3"/><rect x="381.1" y="139.5" width="3" height="3"/><rect x="381.5" y="140.9" width="3" height="3"/><rect x="381.9" y="141.9" width="3" height="3"/><rect x="382.3" y="147.2" width="3" height="3"/><rect x="382.7" y="143.1" width="3" height="3"/><rect x="383.1" y="141.2" width="3" height="3"/><rect x="383.5" y="142.3" width="3" height="3"/><rect x="383.9" y="145.1" width="3" height="3"/><rect x="384.3" y="141.4" width="3" height="3"/><rect x="384.7" y="143.2" width="3" height="3"/><rect x="385.1" y="140.9" width="3" height="3"/><rect x="385.4" y="141.0" width="3" height="3"/><rect x="385.8" y="140.9" width="3" height="3"/><rect x="386.2" y="145.8" width="3" height="3"/><rect x="386.6" y="141.4" width="3" height="3"/><rect x="387.0" y="147.7" width="3" height="3"/><rect x="387.4" y="148.2" width="3" height="3"/><rect x="387.8" y="142.9" width="3" height="3"/><rect x="388.2" y="148.3" width="3" height="3"/><rect x="388.6" y="147.3" width="3" height="3"/><rect x="389.0" y="144.5" width="3" height="3"/><rect x="389.4" y="148.4" width="3" height="3"/><rect x="389.8" y="143.5" width="3" height="3"/><rect x="390.2" y="144.1" width="3" height="3"/><rect x="390.5" y="146.1" width="3" height="3"/><rect x="390.9" y="149.3" width="3" height="3"/><rect x="391.3" y="144.3" width="3" height="3"/><rect x="391.7" y="146.9" width="3" height="3"/><rect x="392.1" y="149.4" width="3" height="3"/><rect x="392.5" y="149.6" width="3" height="3"/><rect x="392.9" y="148.1" width="3" height="3"/><rect x="393.3" y="145.8" width="3" height="3"/><rect x="393.7" y="146.6" width="3" height="3"/><rect x="394.1" y="143.6" width="3" height="3"/><rect x="394.5" y="146.2" width="3" height="3"/><rect x="394.9" y="148.5" width="3" height="3"/><rect x="395.2" y="145.8" width="3" height="3"/><rect x="395.6" y="147.8" width="3" height="3"/><rect x="396.0" y="145.9" width="3" height="3"/><rect x="396.4" y="147.0" width="3" height="3"/><rect x="396.8" y="147.7" width="3" height="3"/><rect x="397.2" y="149.4" width="3" height="3"/><rect x="397.6" y="148.7" width="3" height="3"/><rect x="398.0" y="147.4" width="3" height="3"/><rect x="398.4" y="150.1" width="3" height="3"/><rect x="398.8" y="147.1" width="3" height="3"/><rect x="399.2" y="149.8" width="3" height="3"/><rect x="399.6" y="149.2" width="3" height="3"/><rect x="400.0" y="146.6" width="3" height="3"/><rect x="400.3" y="149.2" width="3" height="3"/><rect x="400.7" y="153.9" width="3" height="3"/><rect x="401.1" y="147.7" width="3" height="3"/><rect x="401.5" y="150.2" width="3" height="3"/><rect x="401.9" y="148.1" width="3" height="3"/><rect x="402.3" y="147.4" width="3" height="3"/><rect x="402.7" y="154.9" width="3" height="3"/><rect x="403.1" y="150.4" width="3" height="3"/><rect x="403.5" y="148.9" width="3" height="3"/><rect x="403.9" y="147.8" width="3" height="3"/><rect x="404.3" y="152.1" width="3" height="3"/><rect x="404.7" y="149.5" width="3" height="3"/><rect x="405.0" y="153.0" width="3" height="3"/><rect x="405.4" y="152.1" width="3" height="3"/><rect x="405.8" y="155.0" width="3" height="3"/><rect x="406.2" y="153.0" width="3" height="3"/><rect x="406.6" y="150.4" width="3" height="3"/><rect x="407.0" y="149.9" width="3" height="3"/><rect x="407.4" y="152.9" width="3" height="3"/><rect x="407.8" y="151.6" width="3" height="3"/><rect x="408.2" y="154.1" width="3" height="3"/><rect x="408.6" y="152.4" width="3" height="3"/><rect x="409.0" y="156.0" width="3" height="3"/><rect x="409.4" y="149.1" width="3" height="3"/><rect x="409.8" y="150.6" width="3" height="3"/><rect x="410.1" y="153.5" width="3" height="3"/><rect x="410.5" y="156.1" width="3" height="3"/><rect x="410.9" y="154.5" width="3" height="3"/><rect x="411.3" y="149.8" width="3" height="3"/><rect x="411.7" y="155.4" width="3" height="3"/><rect x="412.1" y="153.2" width="3" height="3"/><rect x="412.5" y="153.6" width="3" height="3"/><rect x="412.9" y="152.3" width="3" height="3"/><rect x="413.3" y="151.1" width="3" height="3"/><rect x="413.7" y="150.0" width="3" height="3"/><rect x="414.1" y="154.4" width="3" height="3"/><rect x="414.5" y="156.1" width="3" height="3"/><rect x="414.9" y="155.7" width="3" height="3"/><rect x="415.2" y="155.0" width="3" height="3"/><rect x="415.6" y="153.6" width="3" height="3"/><rect x="416.0" y="150.8" width="3" height="3"/><rect x="416.4" y="150.4" width="3" height="3"/><rect x="416.8" y="158.5" width="3" height="3"/><rect x="417.2" y="155.5" width="3" height="3"/><rect x="417.6" y="152.7" width="3" height="3"/><rect x="418.0" y="156.5" width="3" height="3"/><rect x="418.4" y="155.1" width="3" height="3"/><rect x="418.8" y="157.5" width="3" height="3"/><rect x="419.2" y="155.7" width="3" height="3"/><rect x="419.6" y="153.4" width="3" height="3"/><rect x="419.9" y="150.6" width="3" height="3"/><rect x="420.3" y="152.6" width="3" height="3"/><rect x="420.7" y="153.4" width="3" height="3"/><rect x="421.1" y="154.0" width="3" height="3"/><rect x="421.5" y="155.9" width="3" height="3"/><rect x="421.9" y="153.3" width="3" height="3"/><rect x="422.3" y="155.4" width="3" height="3"/><rect x="422.7" y="154.1" width="3" height="3"/><rect x="423.1" y="152.2" width="3" height="3"/><rect x="423.5" y="152.9" width="3" height="3"/><rect x="423.9" y="155.9" width="3" height="3"/><rect x="424.3" y="152.5" width="3" height="3"/><rect x="424.7" y="154.8" width="3" height="3"/><rect x="425.0" y="152.8" width="3" height="3"/><rect x="425.4" y="152.3" width="3" height="3"/><rect x="425.8" y="154.1" width="3" height="3"/><rect x="426.2" y="156.3" width="3" height="3"/><rect x="426.6" y="155.8" width="3" height="3"/><rect x="427.0" y="155.9" width="3" height="3"/><rect x="427.4" y="156.2" width="3" height="3"/><rect x="427.8" y="154.9" width="3" height="3"/><rect x="428.2" y="154.5" width="3" height="3"/><rect x="428.6" y="154.7" width="3" height="3"/><rect x="429.0" y="154.7" width="3" height="3"/><rect x="429.4" y="157.6" width="3" height="3"/><rect x="429.8" y="157.5" width="3" height="3"/><rect x="430.1" y="155.1" width="3" height="3"/><rect x="430.5" y="152.9" width="3" height="3"/><rect x="430.9" y="156.7" width="3" height="3"/><rect x="431.3" y="155.0" width="3" height="3"/><rect x="431.7" y="154.9" width="3" height="3"/><rect x="432.1" y="153.6" width="3" height="3"/><rect x="432.5" y="154.9" width="3" height="3"/><rect x="432.9" y="152.8" width="3" height="3"/><rect x="433.3" y="157.4" width="3" height="3"/><rect x="433.7" y="153.2" width="3" height="3"/><rect x="434.1" y="157.1" width="3" height="3"/><rect x="434.5" y="157.8" width="3" height="3"/><rect x="434.8" y="158.6" width="3" height="3"/><rect x="435.2" y="155.2" width="3" height="3"/><rect x="435.6" y="158.8" width="3" height="3"/><rect x="436.0" y="153.4" width="3" height="3"/><rect x="436.4" y="155.4" width="3" height="3"/><rect x="436.8" y="154.5" width="3" height="3"/><rect x="437.2" y="158.7" width="3" height="3"/><rect x="437.6" y="157.9" width="3" height="3"/><rect x="438.0" y="153.8" width="3" height="3"/><rect x="438.4" y="156.9" width="3" height="3"/><rect x="438.8" y="154.4" width="3" height="3"/><rect x="439.2" y="157.0" width="3" height="3"/><rect x="439.6" y="156.0" width="3" height="3"/><rect x="439.9" y="153.9" width="3" height="3"/><rect x="440.3" y="158.4" width="3" height="3"/><rect x="440.7" y="154.8" width="3" height="3"/><rect x="441.1" y="153.3" width="3" height="3"/><rect x="441.5" y="154.8" width="3" height="3"/><rect x="441.9" y="155.9" width="3" height="3"/><rect x="442.3" y="155.5" width="3" height="3"/><rect x="442.7" y="153.7" width="3" height="3"/><rect x="443.1" y="158.2" width="3" height="3"/><rect x="443.5" y="157.8" width="3" height="3"/><rect x="443.9" y="157.4" width="3" height="3"/><rect x="444.3" y="154.3" width="3" height="3"/><rect x="444.6" y="155.6" width="3" height="3"/><rect x="445.0" y="158.3" width="3" height="3"/><rect x="445.4" y="157.2" width="3" height="3"/><rect x="445.8" y="159.0" width="3" height="3"/><rect x="446.2" y="154.8" width="3" height="3"/><rect x="446.6" y="158.1" width="3" height="3"/><rect x="447.0" y="157.0" width="3" height="3"/><rect x="447.4" y="154.5" width="3" height="3"/><rect x="447.8" y="156.5" width="3" height="3"/><rect x="448.2" y="156.7" width="3" height="3"/><rect x="448.6" y="153.8" width="3" height="3"/><rect x="449.0" y="157.2" width="3" height="3"/><rect x="449.4" y="156.0" width="3" height="3"/><rect x="449.7" y="154.2" width="3" height="3"/><rect x="450.1" y="154.0" width="3" height="3"/><rect x="450.5" y="159.5" width="3" height="3"/><rect x="450.9" y="157.0" width="3" height="3"/><rect x="451.3" y="154.1" width="3" height="3"/><rect x="451.7" y="155.9" width="3" height="3"/><rect x="452.1" y="156.8" width="3" height="3"/><rect x="452.5" y="155.2" width="3" height="3"/><rect x="452.9" y="157.3" width="3" height="3"/><rect x="453.3" y="159.0" width="3" height="3"/><rect x="453.7" y="155.6" width="3" height="3"/><rect x="454.1" y="158.0" width="3" height="3"/><rect x="454.5" y="155.9" width="3" height="3"/><rect x="454.8" y="156.3" width="3" height="3"/><rect x="455.2" y="158.5" width="3" height="3"/><rect x="455.6" y="154.1" width="3" height="3"/><rect x="456.0" y="157.8" width="3" height="3"/><rect x="456.4" y="159.6" width="3" height="3"/><rect x="456.8" y="157.9" width="3" height="3"/><rect x="457.2" y="158.3" width="3" height="3"/><rect x="457.6" y="156.9" width="3" height="3"/><rect x="458.0" y="157.9" width="3" height="3"/><rect x="458.4" y="158.2" width="3" height="3"/><rect x="458.8" y="159.0" width="3" height="3"/><rect x="459.2" y="156.0" width="3" height="3"/><rect x="459.5" y="156.8" width="3" height="3"/><rect x="459.9" y="153.9" width="3" height="3"/><rect x="460.3" y="159.2" width="3" height="3"/><rect x="460.7" y="158.5" width="3" height="3"/><rect x="461.1" y="160.0" width="3" height="3"/><rect x="461.5" y="156.8" width="3" height="3"/><rect x="461.9" y="155.1" width="3" height="3"/><rect x="462.3" y="158.5" width="3" height="3"/><rect x="462.7" y="154.9" width="3" height="3"/><rect x="463.1" y="154.5" width="3" height="3"/><rect x="463.5" y="158.8" width="3" height="3"/><rect x="463.9" y="159.1" width="3" height="3"/><rect x="464.3" y="161.0" width="3" height="3"/><rect x="464.6" y="157.2" width="3" height="3"/><rect x="465.0" y="159.7" width="3" height="3"/><rect x="465.4" y="158.4" width="3" height="3"/><rect x="465.8" y="156.3" width="3" height="3"/><rect x="466.2" y="159.7" width="3" height="3"/><rect x="466.6" y="156.7" width="3" height="3"/><rect x="467.0" y="158.6" width="3" height="3"/><rect x="467.4" y="156.7" width="3" height="3"/><rect x="467.8" y="157.0" width="3" height="3"/><rect x="468.2" y="160.2" width="3" height="3"/><rect x="468.6" y="159.4" width="3" height="3"/><rect x="469.0" y="159.5" width="3" height="3"/><rect x="469.3" y="160.5" width="3" height="3"/><rect x="469.7" y="156.4" width="3" height="3"/><rect x="470.1" y="156.8" width="3" height="3"/><rect x="470.5" y="160.0" width="3" height="3"/><rect x="470.9" y="154.6" width="3" height="3"/><rect x="471.3" y="158.1" width="3" height="3"/><rect x="471.7" y="154.9" width="3" height="3"/><rect x="472.1" y="159.9" width="3" height="3"/><rect x="472.5" y="159.8" width="3" height="3"/><rect x="472.9" y="160.2" width="3" height="3"/><rect x="473.3" y="158.0" width="3" height="3"/><rect x="473.7" y="159.2" width="3" height="3"/><rect x="474.1" y="158.3" width="3" height="3"/><rect x="474.4" y="155.9" width="3" height="3"/><rect x="474.8" y="159.5" width="3" height="3"/><rect x="475.2" y="159.6" width="3" height="3"/><rect x="475.6" y="158.2" width="3" height="3"/><rect x="476.0" y="157.9" width="3" height="3"/><rect x="476.4" y="155.9" width="3" height="3"/><rect x="476.8" y="158.9" width="3" height="3"/><rect x="477.2" y="157.2" width="3" height="3"/><rect x="477.6" y="155.0" width="3" height="3"/><rect x="478.0" y="155.4" width="3" height="3"/><rect x="478.4" y="155.7" width="3" height="3"/><rect x="478.8" y="158.5" width="3" height="3"/><rect x="479.2" y="160.0" width="3" height="3"/><rect x="479.5" y="156.4" width="3" height="3"/><rect x="479.9" y="160.5" width="3" height="3"/><rect x="480.3" y="159.8" width="3" height="3"/><rect x="480.7" y="156.5" width="3" height="3"/><rect x="481.1" y="160.1" width="3" height="3"/><rect x="481.5" y="162.4" width="3" height="3"/><rect x="481.9" y="155.5" width="3" height="3"/><rect x="482.3" y="158.2" width="3" height="3"/><rect x="482.7" y="158.9" width="3" height="3"/><rect x="483.1" y="155.8" width="3" height="3"/><rect x="483.5" y="157.4" width="3" height="3"/><rect x="483.9" y="160.3" width="3" height="3"/><rect x="484.2" y="155.1" width="3" height="3"/><rect x="484.6" y="158.8" width="3" height="3"/><rect x="485.0" y="155.7" width="3" height="3"/><rect x="485.4" y="159.0" width="3" height="3"/><rect x="485.8" y="159.4" width="3" height="3"/><rect x="486.2" y="156.4" width="3" height="3"/><rect x="486.6" y="155.9" width="3" height="3"/><rect x="487.0" y="161.4" width="3" height="3"/><rect x="487.4" y="155.1" width="3" height="3"/><rect x="487.8" y="160.5" width="3" height="3"/><rect x="488.2" y="155.8" width="3" height="3"/><rect x="488.6" y="160.5" width="3" height="3"/><rect x="489.0" y="157.6" width="3" height="3"/><rect x="489.3" y="157.8" width="3" height="3"/><rect x="489.7" y="158.7" width="3" height="3"/><rect x="490.1" y="155.8" width="3" height="3"/><rect x="490.5" y="157.4" width="3" height="3"/><rect x="490.9" y="160.0" width="3" height="3"/><rect x="491.3" y="157.9" width="3" height="3"/><rect x="491.7" y="155.6" width="3" height="3"/><rect x="492.1" y="160.4" width="3" height="3"/><rect x="492.5" y="157.8" width="3" height="3"/><rect x="492.9" y="156.2" width="3" height="3"/><rect x="493.3" y="161.0" width="3" height="3"/><rect x="493.7" y="156.7" width="3" height="3"/><rect x="494.0" y="159.4" width="3" height="3"/><rect x="494.4" y="155.1" width="3" height="3"/><rect x="494.8" y="158.6" width="3" height="3"/><rect x="495.2" y="156.1" width="3" height="3"/><rect x="495.6" y="156.3" width="3" height="3"/><rect x="496.0" y="156.1" width="3" height="3"/><rect x="496.4" y="156.9" width="3" height="3"/><rect x="496.8" y="158.0" width="3" height="3"/><rect x="497.2" y="158.7" width="3" height="3"/><rect x="497.6" y="158.5" width="3" height="3"/><rect x="498.0" y="159.4" width="3" height="3"/><rect x="498.4" y="155.4" width="3" height="3"/><rect x="498.8" y="160.1" width="3" height="3"/><rect x="499.1" y="155.1" width="3" height="3"/><rect x="499.5" y="160.3" width="3" height="3"/><rect x="499.9" y="160.0" width="3" height="3"/><rect x="500.3" y="156.0" width="3" height="3"/><rect x="500.7" y="157.7" width="3" height="3"/><rect x="501.1" y="159.4" width="3" height="3"/><rect x="501.5" y="157.0" width="3" height="3"/><rect x="501.9" y="162.4" width="3" height="3"/><rect x="502.3" y="158.0" width="3" height="3"/><rect x="502.7" y="161.4" width="3" height="3"/><rect x="503.1" y="156.2" width="3" height="3"/><rect x="503.5" y="160.8" width="3" height="3"/><rect x="503.9" y="158.4" width="3" height="3"/><rect x="504.2" y="158.2" width="3" height="3"/><rect x="504.6" y="159.6" width="3" height="3"/><rect x="505.0" y="158.1" width="3" height="3"/><rect x="505.4" y="155.8" width="3" height="3"/><rect x="505.8" y="158.7" width="3" height="3"/><rect x="506.2" y="158.5" width="3" height="3"/><rect x="506.6" y="160.1" width="3" height="3"/><rect x="507.0" y="157.6" width="3" height="3"/><rect x="507.4" y="157.5" width="3" height="3"/><rect x="507.8" y="157.1" width="3" height="3"/><rect x="508.2" y="157.7" width="3" height="3"/><rect x="508.6" y="160.6" width="3" height="3"/><rect x="508.9" y="155.4" width="3" height="3"/><rect x="509.3" y="160.7" width="3" height="3"/><rect x="509.7" y="158.9" width="3" height="3"/><rect x="510.1" y="155.5" width="3" height="3"/><rect x="510.5" y="155.2" width="3" height="3"/><rect x="510.9" y="159.8" width="3" height="3"/><rect x="511.3" y="160.0" width="3" height="3"/></g>
<g fill="#e8101c"><rect x="337.9" y="82.7" width="2.4" height="2.4"/><rect x="344.8" y="97.9" width="2.4" height="2.4"/><rect x="351.8" y="110.6" width="2.4" height="2.4"/><rect x="358.7" y="124.0" width="2.4" height="2.4"/><rect x="365.7" y="129.4" width="2.4" height="2.4"/><rect x="372.6" y="138.2" width="2.4" height="2.4"/><rect x="379.6" y="143.2" width="2.4" height="2.4"/><rect x="386.5" y="144.2" width="2.4" height="2.4"/><rect x="393.5" y="148.3" width="2.4" height="2.4"/><rect x="400.4" y="152.6" width="2.4" height="2.4"/><rect x="407.4" y="149.1" width="2.4" height="2.4"/><rect x="414.3" y="155.6" width="2.4" height="2.4"/><rect x="421.3" y="154.9" width="2.4" height="2.4"/><rect x="428.2" y="157.3" width="2.4" height="2.4"/><rect x="435.2" y="156.3" width="2.4" height="2.4"/><rect x="442.1" y="156.7" width="2.4" height="2.4"/><rect x="449.1" y="154.6" width="2.4" height="2.4"/><rect x="456.0" y="156.0" width="2.4" height="2.4"/><rect x="463.0" y="157.2" width="2.4" height="2.4"/><rect x="469.9" y="158.5" width="2.4" height="2.4"/><rect x="476.9" y="156.9" width="2.4" height="2.4"/><rect x="483.8" y="159.2" width="2.4" height="2.4"/><rect x="490.8" y="159.4" width="2.4" height="2.4"/><rect x="497.7" y="159.6" width="2.4" height="2.4"/><rect x="504.7" y="159.9" width="2.4" height="2.4"/><rect x="511.6" y="160.1" width="2.4" height="2.4"/></g>
<g fill="#e020e0"><rect x="342.6" y="89.7" width="2.4" height="2.4"/><rect x="355.6" y="117.4" width="2.4" height="2.4"/><rect x="368.6" y="132.1" width="2.4" height="2.4"/><rect x="381.6" y="142.9" width="2.4" height="2.4"/><rect x="394.6" y="144.3" width="2.4" height="2.4"/><rect x="407.6" y="151.0" width="2.4" height="2.4"/><rect x="420.6" y="152.5" width="2.4" height="2.4"/><rect x="433.6" y="154.5" width="2.4" height="2.4"/><rect x="446.6" y="156.3" width="2.4" height="2.4"/><rect x="459.6" y="156.7" width="2.4" height="2.4"/><rect x="472.6" y="157.6" width="2.4" height="2.4"/><rect x="485.6" y="156.2" width="2.4" height="2.4"/><rect x="498.6" y="155.9" width="2.4" height="2.4"/><rect x="511.6" y="157.8" width="2.4" height="2.4"/></g>
<polyline points="325.0,26.5 326.9,35.0 328.8,43.0 330.6,50.4 332.5,57.4 334.4,63.9 336.3,70.0 338.1,75.7 340.0,81.1 341.9,86.1 343.8,90.7 345.7,95.1 347.5,99.2 349.4,103.0 351.3,106.6 353.2,109.9 355.0,113.1 356.9,116.0 358.8,118.7 360.7,121.3 362.6,123.7 364.4,125.9 366.3,128.0 368.2,130.0 370.1,131.8 371.9,133.6 373.8,135.2 375.7,136.7 377.6,138.1 379.5,139.4 381.3,140.6 383.2,141.8 385.1,142.9 387.0,143.9 388.9,144.8 390.7,145.7 392.6,146.5 394.5,147.3 396.4,148.0 398.2,148.7 400.1,149.3 402.0,149.9 403.9,150.5 405.8,151.0 407.6,151.5 409.5,151.9 411.4,152.4 413.3,152.7 415.1,153.1 417.0,153.5 418.9,153.8 420.8,154.1 422.7,154.4 424.5,154.6 426.4,154.9 428.3,155.1 430.2,155.3 432.0,155.5 433.9,155.7 435.8,155.9 437.7,156.1 439.6,156.2 441.4,156.4 443.3,156.5 445.2,156.6 447.1,156.8 448.9,156.9 450.8,157.0 452.7,157.1 454.6,157.2 456.5,157.3 458.3,157.3 460.2,157.4 462.1,157.5 464.0,157.5 465.8,157.6 467.7,157.7 469.6,157.7 471.5,157.8 473.4,157.8 475.2,157.9 477.1,157.9 479.0,157.9 480.9,158.0 482.8,158.0 484.6,158.0 486.5,158.1 488.4,158.1 490.3,158.1 492.1,158.2 494.0,158.2 495.9,158.2 497.8,158.2 499.7,158.2 501.5,158.2 503.4,158.3 505.3,158.3 507.2,158.3 509.0,158.3 510.9,158.3 512.8,158.3" fill="none" stroke="#111" stroke-width="1.3"/>
</g>
<rect x="325" y="10.5" width="187.79999999999995" height="157.7" fill="none" stroke="#111" stroke-width="1.1"/>
<path d="M348.5 168.2 v-3 M348.5 10.5 v3 M371.9 168.2 v-3 M371.9 10.5 v3 M395.4 168.2 v-3 M395.4 10.5 v3 M418.9 168.2 v-3 M418.9 10.5 v3 M442.4 168.2 v-3 M442.4 10.5 v3 M465.8 168.2 v-3 M465.8 10.5 v3 M489.3 168.2 v-3 M489.3 10.5 v3 M325 147.2 h3 M512.8 147.2 h-3 M325 126.2 h3 M512.8 126.2 h-3 M325 105.2 h3 M512.8 105.2 h-3 M325 84.2 h3 M512.8 84.2 h-3 M325 63.2 h3 M512.8 63.2 h-3 M325 42.2 h3 M512.8 42.2 h-3 M325 21.2 h3 M512.8 21.2 h-3 " stroke="#111" stroke-width="0.9" fill="none"/>
<text x="325.0" y="178.6" font-size="10.3" text-anchor="middle">0</text>
<text x="371.7" y="178.6" font-size="10.3" text-anchor="middle">5</text>
<text x="418.7" y="178.6" font-size="10.3" text-anchor="middle">10</text>
<text x="465.6" y="178.6" font-size="10.3" text-anchor="middle">15</text>
<text x="511.5" y="178.6" font-size="10.3" text-anchor="middle">20</text>
<text x="315.5" y="171.2" font-size="10.3" text-anchor="middle">0</text>
<text transform="translate(317.5 88.5) rotate(-90)" font-size="12" text-anchor="middle">ΔT (a.u.)</text>
<text x="418.3" y="198.3" font-size="12" text-anchor="middle">Distance (μm)</text>
<text x="288" y="16" font-size="13.5">(b)</text>
<text x="423" y="95" font-size="13.3" text-anchor="middle" style="fill:#d01020;stroke:#d01020">Plain Si</text>
<rect x="432.2" y="16" width="72.8" height="49" fill="#fff" stroke="#111" stroke-width="0.9"/>
<rect x="440.8" y="20.2" width="3" height="3" fill="#e8101c"/>
<text x="453.2" y="24.3" font-size="7.6">Line 1</text>
<rect x="440.8" y="29.9" width="3" height="3" fill="#1010d8"/>
<text x="453.2" y="34.0" font-size="7.6">Line 2</text>
<rect x="440.8" y="39.5" width="3" height="3" fill="#e020e0"/>
<text x="453.2" y="43.6" font-size="7.6">Line 3</text>
<rect x="440.8" y="49.1" width="3" height="3" fill="#f08010"/>
<text x="453.2" y="53.2" font-size="7.6">Line 4</text>
<path d="M434.2 60 H451.2" stroke="#111" stroke-width="1.2"/>
<text x="453.2" y="62.6" font-size="7.6">Exponential Fit</text>
</g>
<g id="plot-d">
<g clip-path="url(#clipd)">
<g fill="#e8101c"><circle cx="325.0" cy="236.3" r="1.9"/><circle cx="330.4" cy="251.7" r="1.9"/><circle cx="335.7" cy="263.1" r="1.9"/><circle cx="341.1" cy="274.0" r="1.9"/><circle cx="346.5" cy="279.0" r="1.9"/><circle cx="351.8" cy="288.1" r="1.9"/><circle cx="357.2" cy="295.8" r="1.9"/><circle cx="362.6" cy="303.5" r="1.9"/><circle cx="367.9" cy="307.9" r="1.9"/><circle cx="373.3" cy="318.8" r="1.9"/><circle cx="378.7" cy="320.6" r="1.9"/><circle cx="384.0" cy="327.8" r="1.9"/><circle cx="389.4" cy="328.6" r="1.9"/><circle cx="394.8" cy="334.9" r="1.9"/><circle cx="400.1" cy="342.1" r="1.9"/><circle cx="405.5" cy="345.9" r="1.9"/><circle cx="410.9" cy="351.5" r="1.9"/><circle cx="416.2" cy="353.4" r="1.9"/><circle cx="421.6" cy="358.5" r="1.9"/><circle cx="426.9" cy="356.1" r="1.9"/><circle cx="432.3" cy="353.0" r="1.9"/><circle cx="437.7" cy="353.0" r="1.9"/><circle cx="443.0" cy="350.1" r="1.9"/><circle cx="448.4" cy="352.5" r="1.9"/><circle cx="453.8" cy="350.2" r="1.9"/><circle cx="459.1" cy="345.8" r="1.9"/><circle cx="464.5" cy="346.4" r="1.9"/><circle cx="469.9" cy="351.3" r="1.9"/><circle cx="475.2" cy="346.9" r="1.9"/><circle cx="480.6" cy="353.5" r="1.9"/><circle cx="486.0" cy="358.7" r="1.9"/><circle cx="491.3" cy="364.6" r="1.9"/><circle cx="496.7" cy="363.5" r="1.9"/><circle cx="502.1" cy="362.7" r="1.9"/><circle cx="507.4" cy="366.5" r="1.9"/><circle cx="512.8" cy="362.7" r="1.9"/></g>
<g fill="#1010d8"><circle cx="325.0" cy="220.7" r="1.9"/><circle cx="330.4" cy="247.0" r="1.9"/><circle cx="335.7" cy="259.2" r="1.9"/><circle cx="341.1" cy="266.6" r="1.9"/><circle cx="346.5" cy="278.3" r="1.9"/><circle cx="351.8" cy="295.4" r="1.9"/><circle cx="357.2" cy="300.7" r="1.9"/><circle cx="362.6" cy="302.0" r="1.9"/><circle cx="367.9" cy="313.0" r="1.9"/><circle cx="373.3" cy="317.1" r="1.9"/><circle cx="378.7" cy="321.1" r="1.9"/><circle cx="384.0" cy="322.7" r="1.9"/><circle cx="389.4" cy="325.4" r="1.9"/><circle cx="394.8" cy="330.6" r="1.9"/><circle cx="400.1" cy="338.2" r="1.9"/><circle cx="405.5" cy="338.7" r="1.9"/><circle cx="410.9" cy="339.5" r="1.9"/><circle cx="416.2" cy="347.1" r="1.9"/><circle cx="421.6" cy="349.6" r="1.9"/><circle cx="426.9" cy="347.8" r="1.9"/><circle cx="432.3" cy="342.9" r="1.9"/><circle cx="437.7" cy="346.3" r="1.9"/><circle cx="443.0" cy="342.9" r="1.9"/><circle cx="448.4" cy="347.9" r="1.9"/><circle cx="453.8" cy="347.5" r="1.9"/><circle cx="459.1" cy="354.2" r="1.9"/><circle cx="464.5" cy="354.9" r="1.9"/><circle cx="469.9" cy="358.4" r="1.9"/><circle cx="475.2" cy="352.7" r="1.9"/><circle cx="480.6" cy="359.1" r="1.9"/><circle cx="486.0" cy="363.1" r="1.9"/><circle cx="491.3" cy="360.5" r="1.9"/><circle cx="496.7" cy="353.6" r="1.9"/><circle cx="502.1" cy="352.6" r="1.9"/><circle cx="507.4" cy="352.1" r="1.9"/><circle cx="512.8" cy="353.8" r="1.9"/></g>
<g fill="#e020e0"><circle cx="325.0" cy="245.7" r="1.9"/><circle cx="330.4" cy="260.4" r="1.9"/><circle cx="335.7" cy="277.5" r="1.9"/><circle cx="341.1" cy="286.9" r="1.9"/><circle cx="346.5" cy="292.5" r="1.9"/><circle cx="351.8" cy="306.4" r="1.9"/><circle cx="357.2" cy="306.2" r="1.9"/><circle cx="362.6" cy="297.1" r="1.9"/><circle cx="367.9" cy="301.1" r="1.9"/><circle cx="373.3" cy="309.7" r="1.9"/><circle cx="378.7" cy="314.4" r="1.9"/><circle cx="384.0" cy="317.4" r="1.9"/><circle cx="389.4" cy="322.4" r="1.9"/><circle cx="394.8" cy="323.5" r="1.9"/><circle cx="400.1" cy="321.1" r="1.9"/><circle cx="405.5" cy="328.1" r="1.9"/><circle cx="410.9" cy="330.6" r="1.9"/><circle cx="416.2" cy="330.4" r="1.9"/><circle cx="421.6" cy="338.9" r="1.9"/><circle cx="426.9" cy="339.9" r="1.9"/><circle cx="432.3" cy="340.2" r="1.9"/><circle cx="437.7" cy="345.2" r="1.9"/><circle cx="443.0" cy="346.2" r="1.9"/><circle cx="448.4" cy="350.9" r="1.9"/><circle cx="453.8" cy="350.0" r="1.9"/><circle cx="459.1" cy="353.3" r="1.9"/><circle cx="464.5" cy="360.8" r="1.9"/><circle cx="469.9" cy="360.9" r="1.9"/><circle cx="475.2" cy="365.0" r="1.9"/><circle cx="480.6" cy="364.1" r="1.9"/><circle cx="486.0" cy="361.1" r="1.9"/><circle cx="491.3" cy="362.7" r="1.9"/><circle cx="496.7" cy="359.2" r="1.9"/><circle cx="502.1" cy="362.7" r="1.9"/><circle cx="507.4" cy="366.5" r="1.9"/><circle cx="512.8" cy="360.2" r="1.9"/></g>
<g fill="#f08010"><circle cx="325.0" cy="239.9" r="1.9"/><circle cx="330.4" cy="260.1" r="1.9"/><circle cx="335.7" cy="270.3" r="1.9"/><circle cx="341.1" cy="279.9" r="1.9"/><circle cx="346.5" cy="291.6" r="1.9"/><circle cx="351.8" cy="302.3" r="1.9"/><circle cx="357.2" cy="303.7" r="1.9"/><circle cx="362.6" cy="303.2" r="1.9"/><circle cx="367.9" cy="302.9" r="1.9"/><circle cx="373.3" cy="311.6" r="1.9"/><circle cx="378.7" cy="311.8" r="1.9"/><circle cx="384.0" cy="312.2" r="1.9"/><circle cx="389.4" cy="320.5" r="1.9"/><circle cx="394.8" cy="322.5" r="1.9"/><circle cx="400.1" cy="320.6" r="1.9"/><circle cx="405.5" cy="321.2" r="1.9"/><circle cx="410.9" cy="331.3" r="1.9"/><circle cx="416.2" cy="330.5" r="1.9"/><circle cx="421.6" cy="335.9" r="1.9"/><circle cx="426.9" cy="343.4" r="1.9"/><circle cx="432.3" cy="346.9" r="1.9"/><circle cx="437.7" cy="354.1" r="1.9"/><circle cx="443.0" cy="352.0" r="1.9"/><circle cx="448.4" cy="354.6" r="1.9"/><circle cx="453.8" cy="357.0" r="1.9"/><circle cx="459.1" cy="360.6" r="1.9"/><circle cx="464.5" cy="359.6" r="1.9"/><circle cx="469.9" cy="361.2" r="1.9"/><circle cx="475.2" cy="365.8" r="1.9"/><circle cx="480.6" cy="361.8" r="1.9"/><circle cx="486.0" cy="352.2" r="1.9"/><circle cx="491.3" cy="350.7" r="1.9"/><circle cx="496.7" cy="351.9" r="1.9"/><circle cx="502.1" cy="351.0" r="1.9"/><circle cx="507.4" cy="353.6" r="1.9"/><circle cx="512.8" cy="354.6" r="1.9"/></g>
<polyline points="325.0,236.0 326.9,240.9 328.8,245.5 330.6,250.0 332.5,254.3 334.4,258.5 336.3,262.5 338.1,266.3 340.0,270.0 341.9,273.5 343.8,276.9 345.7,280.1 347.5,283.3 349.4,286.3 351.3,289.2 353.2,291.9 355.0,294.6 356.9,297.2 358.8,299.6 360.7,302.0 362.6,304.3 364.4,306.5 366.3,308.6 368.2,310.6 370.1,312.5 371.9,314.4 373.8,316.2 375.7,317.9 377.6,319.5 379.5,321.1 381.3,322.7 383.2,324.1 385.1,325.5 387.0,326.9 388.9,328.2 390.7,329.4 392.6,330.6 394.5,331.8 396.4,332.9 398.2,333.9 400.1,335.0 402.0,335.9 403.9,336.9 405.8,337.8 407.6,338.7 409.5,339.5 411.4,340.3 413.3,341.1 415.1,341.8 417.0,342.5 418.9,343.2 420.8,343.9 422.7,344.5 424.5,345.1 426.4,345.7 428.3,346.3 430.2,346.8 432.0,347.3 433.9,347.8 435.8,348.3 437.7,348.8 439.6,349.2 441.4,349.6 443.3,350.0 445.2,350.4 447.1,350.8 448.9,351.2 450.8,351.5 452.7,351.8 454.6,352.2 456.5,352.5 458.3,352.8 460.2,353.0 462.1,353.3 464.0,353.6 465.8,353.8 467.7,354.1 469.6,354.3 471.5,354.5 473.4,354.7 475.2,354.9 477.1,355.1 479.0,355.3 480.9,355.5 482.8,355.7 484.6,355.9 486.5,356.0 488.4,356.2 490.3,356.3 492.1,356.5 494.0,356.6 495.9,356.7 497.8,356.9 499.7,357.0 501.5,357.1 503.4,357.2 505.3,357.3 507.2,357.4 509.0,357.5 510.9,357.6 512.8,357.7" fill="none" stroke="#111" stroke-width="1.3"/>
</g>
<rect x="325" y="211.2" width="187.79999999999995" height="157.0" fill="none" stroke="#111" stroke-width="1.1"/>
<path d="M348.5 368.2 v-3 M348.5 211.2 v3 M371.9 368.2 v-3 M371.9 211.2 v3 M395.4 368.2 v-3 M395.4 211.2 v3 M418.9 368.2 v-3 M418.9 211.2 v3 M442.4 368.2 v-3 M442.4 211.2 v3 M465.8 368.2 v-3 M465.8 211.2 v3 M489.3 368.2 v-3 M489.3 211.2 v3 M325 352.6 h3 M512.8 352.6 h-3 M325 336.9 h3 M512.8 336.9 h-3 M325 321.2 h3 M512.8 321.2 h-3 M325 305.6 h3 M512.8 305.6 h-3 M325 289.9 h3 M512.8 289.9 h-3 M325 274.3 h3 M512.8 274.3 h-3 M325 258.6 h3 M512.8 258.6 h-3 M325 243.0 h3 M512.8 243.0 h-3 M325 227.3 h3 M512.8 227.3 h-3 " stroke="#111" stroke-width="0.9" fill="none"/>
<text x="325.0" y="379" font-size="10.3" text-anchor="middle">0.0</text>
<text x="372.0" y="379" font-size="10.3" text-anchor="middle">0.5</text>
<text x="418.7" y="379" font-size="10.3" text-anchor="middle">1.0</text>
<text x="465.6" y="379" font-size="10.3" text-anchor="middle">1.5</text>
<text x="509.0" y="379" font-size="10.3" text-anchor="middle">2.0</text>
<text x="315.5" y="371.2" font-size="10.3" text-anchor="middle">0</text>
<text transform="translate(317.5 290) rotate(-90)" font-size="12" text-anchor="middle">ΔT (a.u.)</text>
<text x="418.3" y="398.5" font-size="12" text-anchor="middle">Distance (μm)</text>
<text x="288" y="220.3" font-size="13.5">(d)</text>
<text x="421" y="294" font-size="12" text-anchor="middle" style="fill:#d01020;stroke:#d01020">Holey Si</text>
<rect x="432.5" y="216.5" width="72.5" height="48.3" fill="#fff" stroke="#111" stroke-width="0.9"/>
<circle cx="442.5" cy="222.3" r="1.8" fill="#e8101c"/>
<text x="453.5" y="224.9" font-size="7.6">Line 1</text>
<circle cx="442.5" cy="231.8" r="1.8" fill="#1010d8"/>
<text x="453.5" y="234.4" font-size="7.6">Line 2</text>
<circle cx="442.5" cy="241.3" r="1.8" fill="#e020e0"/>
<text x="453.5" y="243.9" font-size="7.6">Line 3</text>
<circle cx="442.5" cy="250.9" r="1.8" fill="#f08010"/>
<text x="453.5" y="253.5" font-size="7.6">Line 4</text>
<path d="M434.5 260.3 H451.5" stroke="#111" stroke-width="1.2"/>
<text x="453.5" y="262.90000000000003" font-size="7.6">Exponential Fit</text>
</g>
</svg></body></html>
